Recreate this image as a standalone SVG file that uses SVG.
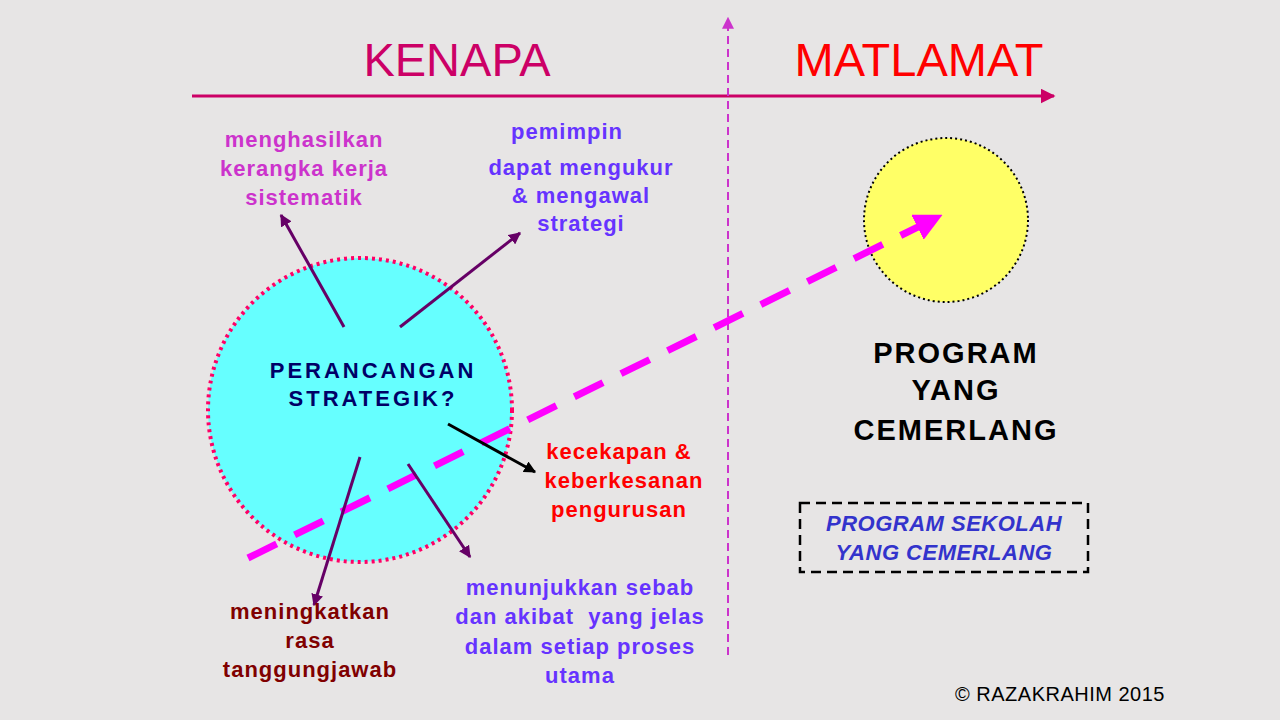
<svg xmlns="http://www.w3.org/2000/svg" width="1280" height="720" viewBox="0 0 1280 720">
<defs>
<style>
text{font-family:"Liberation Sans",Arial,sans-serif;text-anchor:middle}
.b{font-weight:bold;font-size:22px;letter-spacing:1px}
.k{fill:#cc33cc}.p{fill:#6633ff}.r{fill:#ff0000}.m{fill:#800000}
</style>
<marker id="ap" viewBox="0 0 10 10" refX="9" refY="5" markerWidth="4" markerHeight="4" orient="auto"><path d="M0,0L10,5L0,10z" fill="#660066"/></marker>
<marker id="ab" viewBox="0 0 10 10" refX="9" refY="5" markerWidth="4" markerHeight="4" orient="auto"><path d="M0,0L10,5L0,10z" fill="#000"/></marker>
<marker id="ar" viewBox="0 0 10 10" refX="9" refY="5" markerWidth="5" markerHeight="5" orient="auto"><path d="M0,0L10,5L0,10z" fill="#cc0066"/></marker>
<marker id="av" viewBox="0 0 10 10" refX="9" refY="5" markerWidth="6" markerHeight="6" orient="auto"><path d="M0,0L10,5L0,10z" fill="#cc33cc"/></marker>
<marker id="am" viewBox="0 0 10 10" refX="5" refY="5" markerWidth="4" markerHeight="4" orient="auto"><path d="M0,0L10,5L0,10z" fill="#ff00ff"/></marker>
</defs>
<rect width="1280" height="720" fill="#e7e5e5"/>
<g id="axes">
<line x1="192" y1="96" x2="1054" y2="96" stroke="#cc0066" stroke-width="3" marker-end="url(#ar)"/>
<line x1="728" y1="655" x2="728" y2="18" stroke="#cc33cc" stroke-width="2" stroke-dasharray="8,5" marker-end="url(#av)"/>
</g>
<text x="457" y="76" font-size="47" fill="#cc0066">KENAPA</text>
<text x="919" y="76" font-size="47" fill="#ff0000">MATLAMAT</text>
<g id="strategik">
<circle cx="360" cy="410" r="152" fill="#66ffff" stroke="#ff0066" stroke-width="4" stroke-dasharray="3,4"/>
<text class="b" x="373" y="378" fill="#000066" style="letter-spacing:3px">PERANCANGAN</text>
<text class="b" x="373" y="406" fill="#000066" style="letter-spacing:3px">STRATEGIK?</text>
</g>
<g id="program">
<circle cx="946" cy="220" r="82" fill="#ffff66" stroke="#000" stroke-width="2" stroke-dasharray="2,3"/>
<text x="956" y="363" font-size="29" font-weight="bold" letter-spacing="2">PROGRAM</text>
<text x="956" y="400" font-size="29" font-weight="bold" letter-spacing="2">YANG</text>
<text x="956" y="440" font-size="29" font-weight="bold" letter-spacing="2">CEMERLANG</text>
</g>
<g id="sekolah">
<rect x="800" y="503" width="288" height="69" fill="none" stroke="#000" stroke-width="2.5" stroke-dasharray="10,6"/>
<text x="944" y="531" font-size="22" font-weight="bold" font-style="italic" fill="#3333cc" letter-spacing="0.5">PROGRAM SEKOLAH</text>
<text x="944" y="560" font-size="22" font-weight="bold" font-style="italic" fill="#3333cc" letter-spacing="0.5">YANG CEMERLANG</text>
</g>
<g id="connectors">
<line x1="248" y1="558" x2="930" y2="221" stroke="#ff00ff" stroke-width="7" stroke-dasharray="32,20" marker-end="url(#am)"/>
<line x1="344" y1="327" x2="281" y2="215" stroke="#660066" stroke-width="3" marker-end="url(#ap)"/>
<line x1="400" y1="327" x2="520" y2="233" stroke="#660066" stroke-width="3" marker-end="url(#ap)"/>
<line x1="448" y1="424" x2="535" y2="472" stroke="#000" stroke-width="3" marker-end="url(#ab)"/>
<line x1="360" y1="457" x2="314" y2="605" stroke="#660066" stroke-width="3" marker-end="url(#ap)"/>
<line x1="408" y1="464" x2="470" y2="557" stroke="#660066" stroke-width="3" marker-end="url(#ap)"/>
</g>
<g id="labels">
<text class="b k" x="304" y="147">menghasilkan</text>
<text class="b k" x="304" y="176">kerangka kerja</text>
<text class="b k" x="304" y="205">sistematik</text>
<text class="b p" x="567" y="139">pemimpin</text>
<text class="b p" x="581" y="175">dapat mengukur</text>
<text class="b p" x="581" y="203">&amp; mengawal</text>
<text class="b p" x="581" y="231">strategi</text>
<text class="b r" x="619" y="459">kecekapan &amp;</text>
<text class="b r" x="624" y="488">keberkesanan</text>
<text class="b r" x="619" y="517">pengurusan</text>
<text class="b m" x="310" y="619">meningkatkan</text>
<text class="b m" x="310" y="648">rasa</text>
<text class="b m" x="310" y="677">tanggungjawab</text>
<text class="b p" x="580" y="595">menunjukkan sebab</text>
<text class="b p" x="580" y="624" xml:space="preserve">dan akibat  yang jelas</text>
<text class="b p" x="580" y="654">dalam setiap proses</text>
<text class="b p" x="580" y="683">utama</text>
</g>
<text x="1060" y="701" font-size="20" letter-spacing="0.5">© RAZAKRAHIM 2015</text>
</svg>
